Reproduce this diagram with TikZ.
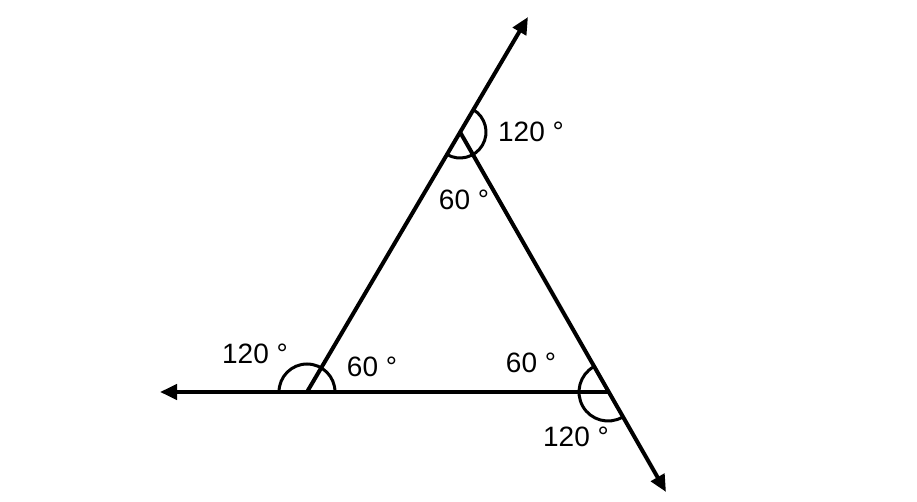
\documentclass[tikz,border=0pt]{standalone}
\usepackage{fontspec}
\setmainfont{Liberation Sans}
\usetikzlibrary{arrows.meta}
\begin{document}
\begin{tikzpicture}[x=1pt,y=1pt,
  ray/.style={line width=4pt,-{Triangle[length=17pt,width=15pt]}},
  anglearc/.style={line width=3pt},
  lbl/.style={font=\fontsize{28}{32}\selectfont,inner sep=0pt}]
\useasboundingbox (0,0) rectangle (917,502);
\coordinate (A) at (307,110);
\coordinate (B) at (608,110);
\coordinate (T) at (460,370);
\coordinate (Ttip) at (528,485);
\coordinate (Rtip) at (666,10);
\coordinate (Ltip) at (160,110);
\draw[ray] (A) -- (Ttip);
\draw[ray] (T) -- (Rtip);
\draw[ray] (B) -- (Ltip);
\draw[anglearc] ([shift={(59.5:26)}]T) arc[start angle=59.5, end angle=-120.5, radius=26];
\draw[anglearc] ([shift={(0:28)}]A) arc[start angle=0, end angle=180, radius=28];
\draw[anglearc] ([shift={(119.65:29)}]B) arc[start angle=119.65, end angle=299.65, radius=29];
\node[lbl] (t1) at (531,370) {120 °};
\node[lbl] (t2) at (464,302) {60 °};
\node[lbl] (a1) at (255,148) {120 °};
\node[lbl] (a2) at (372,135) {60 °};
\node[lbl] (b1) at (531,139) {60 °};
\node[lbl] (b2) at (576,65) {120 °};
\end{tikzpicture}
\end{document}
